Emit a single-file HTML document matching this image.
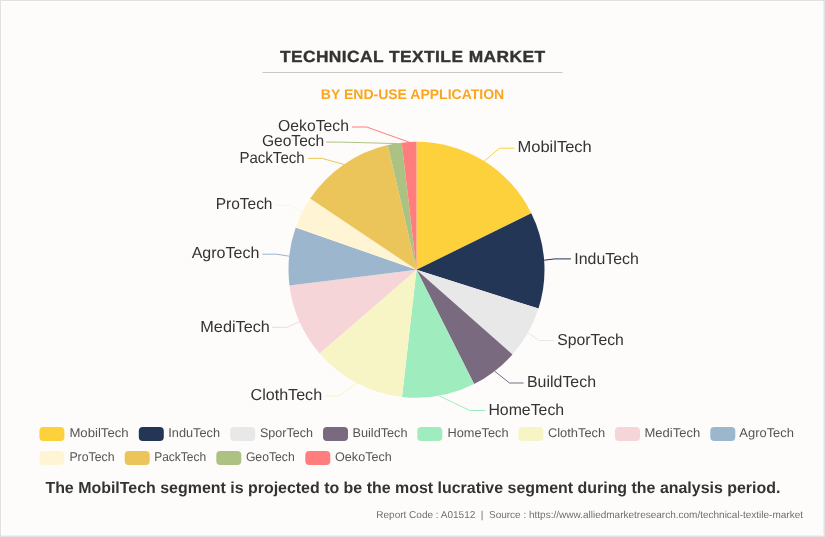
<!DOCTYPE html>
<html><head><meta charset="utf-8"><style>
html,body{margin:0;padding:0;}
body{width:825px;height:537px;overflow:hidden;background:#fdfcfb;position:relative;}
.b{position:absolute;}
svg{position:absolute;left:0;top:0;will-change:transform;text-rendering:geometricPrecision;}
.t{font-family:"Liberation Sans",Arial,sans-serif;}
</style></head><body>
<div class="b" style="left:0;top:0;width:825px;height:1px;background:#e0e0e0"></div>
<div class="b" style="left:0;top:0;width:1px;height:537px;background:#e0e0e0"></div>
<div class="b" style="left:1px;top:1px;width:822px;height:1px;background:#fff"></div>
<div class="b" style="left:1px;top:1px;width:1px;height:534px;background:#fff"></div>
<div class="b" style="left:823px;top:1px;width:1px;height:535px;background:#eeeeee"></div>
<div class="b" style="left:824px;top:0;width:1px;height:537px;background:#e2e2e2"></div>
<div class="b" style="left:1px;top:535px;width:823px;height:1px;background:#f0f0f0"></div>
<div class="b" style="left:0;top:536px;width:825px;height:1px;background:#e2e2e2"></div>
<svg width="825" height="537" viewBox="0 0 825 537">
<g class="t">
<text transform="translate(279.9,61.8) scale(1.08,1)" x="0" y="0" textLength="245.56" lengthAdjust="spacing" font-size="16.1" font-weight="bold" fill="#333" stroke="#333" stroke-width="0.35">TECHNICAL TEXTILE MARKET</text>
<line x1="262.5" y1="72.5" x2="562.5" y2="72.5" stroke="#c8c8c8" stroke-width="1"/>
<text x="412.5" y="98.9" text-anchor="middle" font-size="14" font-weight="bold" fill="#FBA51E">BY END-USE APPLICATION</text>
</g>
<g><path d="M416.5,269.8 L416.50,141.80 A128.0,128.0 0 0 1 531.31,213.21 Z" fill="#FDD13B"/><path d="M416.5,269.8 L531.31,213.21 A128.0,128.0 0 0 1 538.49,308.57 Z" fill="#243656"/><path d="M416.5,269.8 L538.49,308.57 A128.0,128.0 0 0 1 512.47,354.50 Z" fill="#E8E8E8"/><path d="M416.5,269.8 L512.47,354.50 A128.0,128.0 0 0 1 474.09,384.11 Z" fill="#7A6A80"/><path d="M416.5,269.8 L474.09,384.11 A128.0,128.0 0 0 1 402.03,396.98 Z" fill="#9FEDBE"/><path d="M416.5,269.8 L402.03,396.98 A128.0,128.0 0 0 1 319.59,353.42 Z" fill="#F7F5C5"/><path d="M416.5,269.8 L319.59,353.42 A128.0,128.0 0 0 1 289.47,285.55 Z" fill="#F5D5D8"/><path d="M416.5,269.8 L289.47,285.55 A128.0,128.0 0 0 1 295.72,227.41 Z" fill="#9BB6CD"/><path d="M416.5,269.8 L295.72,227.41 A128.0,128.0 0 0 1 310.13,198.59 Z" fill="#FFF5D5"/><path d="M416.5,269.8 L310.13,198.59 A128.0,128.0 0 0 1 387.79,145.06 Z" fill="#ECC55A"/><path d="M416.5,269.8 L387.79,145.06 A128.0,128.0 0 0 1 401.77,142.65 Z" fill="#ACC283"/><path d="M416.5,269.8 L401.77,142.65 A128.0,128.0 0 0 1 416.50,141.80 Z" fill="#FF7D7D"/></g>
<g><polyline points="484.1,161.1 499.6,148.2 514.2,148.2" fill="none" stroke="#FDD13B" stroke-width="1"/><polyline points="544.1,260.2 554.9,258.9 570.9,258.9" fill="none" stroke="#243656" stroke-width="1"/><polyline points="527.9,332.8 539.4,340.5 554.4,340.5" fill="none" stroke="#E8E8E8" stroke-width="1"/><polyline points="494.7,371.2 509.5,383.0 523.6,383.0" fill="none" stroke="#7A6A80" stroke-width="1"/><polyline points="439.0,395.8 469.9,410.5 485.2,410.5" fill="none" stroke="#9FEDBE" stroke-width="1"/><polyline points="356.7,383.0 339.2,396.0 325.0,396.0" fill="none" stroke="#F7F5C5" stroke-width="1"/><polyline points="299.5,321.7 287.3,327.3 272.0,327.3" fill="none" stroke="#F5D5D8" stroke-width="1"/><polyline points="289.2,256.2 276.6,254.2 262.3,254.2" fill="none" stroke="#9BB6CD" stroke-width="1"/><polyline points="302.0,212.6 290.1,205.3 275.8,205.3" fill="none" stroke="#FFF5D5" stroke-width="1"/><polyline points="343.9,164.4 322.1,158.4 307.8,158.4" fill="none" stroke="#ECC55A" stroke-width="1"/><polyline points="397.6,143.6 341.2,142.1 326.1,142.1" fill="none" stroke="#ACC283" stroke-width="1"/><polyline points="409.7,142.4 366.7,127.0 351.8,127.0" fill="none" stroke="#FF7D7D" stroke-width="1"/></g>
<g class="t" font-size="15.9" fill="#333"><text x="517.50" y="151.80" textLength="74.30" lengthAdjust="spacingAndGlyphs">MobilTech</text><text x="574.30" y="263.70" textLength="64.50" lengthAdjust="spacingAndGlyphs">InduTech</text><text x="557.30" y="344.90" textLength="66.60" lengthAdjust="spacingAndGlyphs">SporTech</text><text x="527.00" y="387.00" textLength="69.00" lengthAdjust="spacingAndGlyphs">BuildTech</text><text x="488.40" y="414.80" textLength="75.80" lengthAdjust="spacingAndGlyphs">HomeTech</text><text x="250.50" y="400.00" textLength="71.60" lengthAdjust="spacingAndGlyphs">ClothTech</text><text x="200.30" y="331.80" textLength="69.60" lengthAdjust="spacingAndGlyphs">MediTech</text><text x="191.70" y="257.80" textLength="67.70" lengthAdjust="spacingAndGlyphs">AgroTech</text><text x="215.70" y="208.80" textLength="56.80" lengthAdjust="spacingAndGlyphs">ProTech</text><text x="239.40" y="162.70" textLength="65.30" lengthAdjust="spacingAndGlyphs">PackTech</text><text x="261.90" y="145.90" textLength="62.40" lengthAdjust="spacingAndGlyphs">GeoTech</text><text x="278.10" y="131.20" textLength="70.80" lengthAdjust="spacingAndGlyphs">OekoTech</text></g>
<g class="t" font-size="12.6" fill="#555"><rect x="39.4" y="427.0" width="25" height="14" rx="4" fill="#FDD13B"/><text x="69.40" y="437.10" textLength="59.20" lengthAdjust="spacingAndGlyphs">MobilTech</text><rect x="138.8" y="427.0" width="25" height="14" rx="4" fill="#243656"/><text x="168.30" y="437.10" textLength="51.70" lengthAdjust="spacingAndGlyphs">InduTech</text><rect x="230.2" y="427.0" width="25" height="14" rx="4" fill="#E8E8E8"/><text x="259.90" y="437.10" textLength="53.00" lengthAdjust="spacingAndGlyphs">SporTech</text><rect x="323.0" y="427.0" width="25" height="14" rx="4" fill="#7A6A80"/><text x="352.50" y="437.10" textLength="55.00" lengthAdjust="spacingAndGlyphs">BuildTech</text><rect x="417.3" y="427.0" width="25" height="14" rx="4" fill="#9FEDBE"/><text x="447.50" y="437.10" textLength="61.00" lengthAdjust="spacingAndGlyphs">HomeTech</text><rect x="518.4" y="427.0" width="25" height="14" rx="4" fill="#F7F5C5"/><text x="547.90" y="437.10" textLength="57.30" lengthAdjust="spacingAndGlyphs">ClothTech</text><rect x="615.0" y="427.0" width="25" height="14" rx="4" fill="#F5D5D8"/><text x="644.50" y="437.10" textLength="55.70" lengthAdjust="spacingAndGlyphs">MediTech</text><rect x="710.3" y="427.0" width="25" height="14" rx="4" fill="#9BB6CD"/><text x="739.30" y="437.10" textLength="54.70" lengthAdjust="spacingAndGlyphs">AgroTech</text><rect x="39.4" y="451.0" width="25" height="14" rx="4" fill="#FFF5D5"/><text x="69.40" y="461.10" textLength="45.20" lengthAdjust="spacingAndGlyphs">ProTech</text><rect x="124.7" y="451.0" width="25" height="14" rx="4" fill="#ECC55A"/><text x="154.20" y="461.10" textLength="52.00" lengthAdjust="spacingAndGlyphs">PackTech</text><rect x="216.3" y="451.0" width="25" height="14" rx="4" fill="#ACC283"/><text x="245.90" y="461.10" textLength="48.80" lengthAdjust="spacingAndGlyphs">GeoTech</text><rect x="305.3" y="451.0" width="25" height="14" rx="4" fill="#FF7D7D"/><text x="335.10" y="461.10" textLength="56.60" lengthAdjust="spacingAndGlyphs">OekoTech</text></g>
<g class="t">
<text x="45.4" y="493.0" textLength="735.0" lengthAdjust="spacingAndGlyphs" font-size="16.0" font-weight="bold" fill="#333">The MobilTech segment is projected to be the most lucrative segment during the analysis period.</text>
<text x="803" y="517.8" text-anchor="end" font-size="10" fill="#6e6e6e">Report Code : A01512 &#160;| &#160;Source : https://www.alliedmarketresearch.com/technical-textile-market</text>
</g>
</svg>
</body></html>
